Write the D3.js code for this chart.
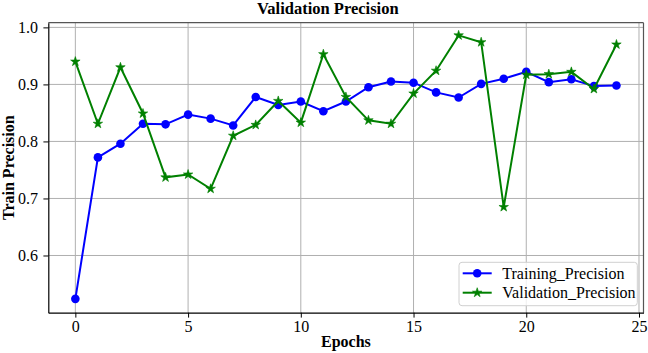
<!DOCTYPE html>
<html>
<head>
<meta charset="utf-8">
<script src="https://cdn.jsdelivr.net/npm/d3@7"></script>
<style>
  body { margin: 0; background: #fff; }
  svg text { font-family: "Liberation Serif", "Times New Roman", serif !important; }
</style>
</head>
<body>
<div id="chart"></div>
<script>
// epochs 0..24
const epochs = d3.range(0, 25);
const trainingPrecision = [0.524, 0.772, 0.796, 0.831, 0.830, 0.847, 0.840, 0.828, 0.878, 0.864,
  0.870, 0.853, 0.870, 0.895, 0.905, 0.903, 0.886, 0.877, 0.901, 0.910,
  0.922, 0.904, 0.909, 0.897, 0.898];
const validationPrecision = [0.940, 0.831, 0.930, 0.849, 0.737, 0.742, 0.717, 0.810, 0.829, 0.871,
  0.833, 0.953, 0.878, 0.837, 0.831, 0.884, 0.924, 0.986, 0.974, 0.685,
  0.917, 0.918, 0.922, 0.892, 0.970];
const xTicks = [0, 5, 10, 15, 20, 25];
const yTicks = [0.6, 0.7, 0.8, 0.9, 1.0];

const W = 648, H = 353;
const margin = {top: 22.7, right: 4.5, bottom: 40.3, left: 48.3};
const width = W - margin.left - margin.right;
const height = H - margin.top - margin.bottom;

const svg = d3.select('#chart').append('svg')
    .attr('width', W)
    .attr('height', H);

const g = svg.append('g')
    .attr('transform', `translate(${margin.left},${margin.top})`);

const x = d3.scaleLinear().domain([-1.2, 25.2]).range([0, width]);
const y = d3.scaleLinear().domain([0.4997, 1.0082]).range([height, 0]);

// grid
g.append('g').selectAll('line').data(xTicks).join('line')
    .attr('x1', d => x(d)).attr('x2', d => x(d))
    .attr('y1', 0).attr('y2', height)
    .attr('stroke', '#b0b0b0').attr('stroke-width', 1);
g.append('g').selectAll('line').data(yTicks).join('line')
    .attr('x1', 0).attr('x2', width)
    .attr('y1', d => y(d)).attr('y2', d => y(d))
    .attr('stroke', '#b0b0b0').attr('stroke-width', 1);

// top / right frame
g.append('line').attr('x1', 0).attr('x2', width).attr('y1', 0).attr('y2', 0)
    .attr('stroke', '#555').attr('stroke-width', 1.2);
g.append('line').attr('x1', width).attr('x2', width).attr('y1', 0).attr('y2', height)
    .attr('stroke', '#555').attr('stroke-width', 1.2);

// axes
const xAxis = g.append('g')
    .attr('transform', `translate(0,${height})`)
    .call(d3.axisBottom(x).tickValues(xTicks).tickSizeInner(4.9).tickSizeOuter(0).tickPadding(3));
const yAxis = g.append('g')
    .call(d3.axisLeft(y).tickValues(yTicks).tickFormat(d3.format('.1f')).tickSizeInner(4.9).tickSizeOuter(0).tickPadding(5.5));
[xAxis, yAxis].forEach(a => {
    a.attr('font-family', null).attr('font-size', null);
    a.selectAll('text').attr('font-size', 16).attr('fill', '#000');
    a.select('.domain').attr('stroke', '#000').attr('stroke-width', 1.2);
    a.selectAll('.tick line').attr('stroke', '#000').attr('stroke-width', 1);
});

const line = d3.line().x((d, i) => x(epochs[i])).y(d => y(d));

// training
g.append('path').datum(trainingPrecision)
    .attr('d', line).attr('fill', 'none').attr('stroke', '#0000ff').attr('stroke-width', 2);
g.append('g').selectAll('circle').data(trainingPrecision).join('circle')
    .attr('cx', (d, i) => x(epochs[i])).attr('cy', d => y(d)).attr('r', 4.3)
    .attr('fill', '#0000ff');

// validation
const star = d3.symbol().type(d3.symbolStar).size(28);
g.append('path').datum(validationPrecision)
    .attr('d', line).attr('fill', 'none').attr('stroke', '#008000').attr('stroke-width', 2);
g.append('g').selectAll('path').data(validationPrecision).join('path')
    .attr('d', star)
    .attr('transform', (d, i) => `translate(${x(epochs[i])},${y(d)})`)
    .attr('fill', '#008000').attr('stroke', '#008000').attr('stroke-width', 0.6);

// title and labels
svg.append('text').attr('x', 327.8).attr('y', 13.5)
    .attr('text-anchor', 'middle').attr('font-weight', 'bold').attr('font-size', 16.5)
    .text('Validation Precision');
svg.append('text').attr('x', margin.left + width / 2).attr('y', 346.5)
    .attr('text-anchor', 'middle').attr('font-weight', 'bold').attr('font-size', 16)
    .text('Epochs');
svg.append('text')
    .attr('transform', `translate(13.5,${margin.top + height / 2}) rotate(-90)`)
    .attr('text-anchor', 'middle').attr('font-weight', 'bold').attr('font-size', 16)
    .text('Train Precision');

// legend
const lg = svg.append('g').attr('transform', 'translate(459,262.3)');
lg.append('rect').attr('width', 178.3).attr('height', 43.4).attr('rx', 3)
    .attr('fill', 'rgba(255,255,255,0.8)').attr('stroke', '#d0d0d0').attr('stroke-width', 1);
const items = [
    {name: 'Training_Precision', color: '#0000ff', mark: 'circle'},
    {name: 'Validation_Precision', color: '#008000', mark: 'star'}
];
items.forEach((it, i) => {
    const row = lg.append('g').attr('transform', `translate(0,${11 + i * 19.4})`);
    row.append('line').attr('x1', 3.7).attr('x2', 32.7).attr('stroke', it.color).attr('stroke-width', 2);
    if (it.mark === 'circle') {
        row.append('circle').attr('cx', 18.2).attr('r', 4.3).attr('fill', it.color);
    } else {
        row.append('path').attr('d', star).attr('transform', 'translate(18.2,0)')
            .attr('fill', it.color).attr('stroke', it.color).attr('stroke-width', 0.6);
    }
    row.append('text').attr('x', 43.3).attr('y', 5.5).attr('font-size', 16).text(it.name);
});
</script>
</body>
</html>
